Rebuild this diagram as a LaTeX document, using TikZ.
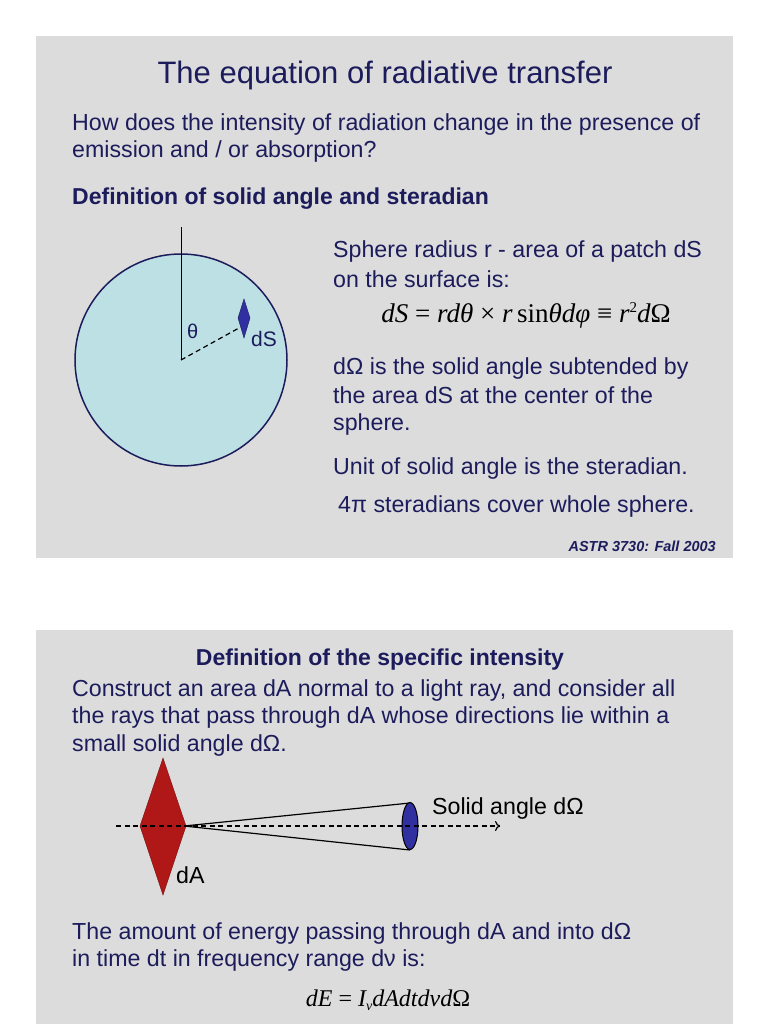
\documentclass[tikz,border=0pt]{standalone}
\usepackage{fontspec}
\setmainfont{Liberation Sans}
\newfontfamily\serifx{Liberation Serif}
\usetikzlibrary{arrows.meta}
\begin{document}
\begin{tikzpicture}[x=1pt,y=-1pt,
  txt/.style={anchor=west,inner sep=0pt,text=navy,font=\fontsize{23.2}{27}\selectfont},
  hd/.style={txt,font=\fontsize{23}{27}\selectfont\bfseries},
  eqn/.style={anchor=center,inner sep=0pt,text=black,font=\fontsize{24}{28}\selectfont\serifx},
  dsh/.style={dash pattern=on 5pt off 3.5pt,black,line width=1.2pt}]
\definecolor{navy}{HTML}{1C1C5C}
\definecolor{panel}{HTML}{DCDCDC}
\definecolor{sph}{HTML}{BCE0E4}
\definecolor{dsb}{HTML}{3030A0}
\definecolor{red}{HTML}{B01818}
\useasboundingbox (0,0) rectangle (768,1024);
\fill[white] (0,0) rectangle (768,1024);
\fill[panel] (36,36) rectangle (733,558);
\fill[panel] (36,630) rectangle (733,1024);
% panel 1 texts
\node[txt,anchor=center,font=\fontsize{31}{36}\selectfont] (title) at (385,75) {The equation of radiative transfer};
\node[txt] (q1) at (72,125) {How does the intensity of radiation change in the presence of};
\node[txt] (q2) at (72,152) {emission and / or absorption?};
\node[hd] (h1) at (72,199) {Definition of solid angle and steradian};
\node[txt] (r1) at (333,252) {Sphere radius r - area of a patch dS};
\node[txt] (r2) at (333,279) {on the surface is:};
\node[eqn,font=\fontsize{27}{30}\selectfont\serifx] (eq1) at (526,315) {\itshape dS {\upshape=} rdθ {\upshape×} r\,{\upshape sin}θdφ {\upshape≡} r\raisebox{0.8ex}{\fontsize{15}{15}\selectfont\upshape 2}d{\upshape Ω}};
\node[txt] (r3) at (333,368) {dΩ is the solid angle subtended by};
\node[txt] (r4) at (333,395) {the area dS at the center of the};
\node[txt] (r5) at (333,424) {sphere.};
\node[txt] (r6) at (333,468) {Unit of solid angle is the steradian.};
\node[txt] (r7) at (338,506) {4π steradians cover whole sphere.};
\node[txt,anchor=east,font=\fontsize{14.5}{17}\selectfont\bfseries\itshape] (astr) at (716,546) {ASTR 3730: Fall 2003};
% sphere
\node[circle,draw=navy,line width=1.5pt,fill=sph,minimum size=212pt,inner sep=0pt] (sphere) at (181,360) {};
\coordinate (ctr) at (181,360);
\coordinate (top) at (181,227);
\draw[black,line width=1pt] (top) -- (ctr);
\draw[dsh] (ctr) -- (239,328);
\fill[dsb,draw=navy] (244,299) -- (250,318) -- (244,338) -- (238,318) -- cycle;
\node[txt,font=\fontsize{20}{22}\selectfont] (th) at (187,331) {θ};
\node[txt,font=\fontsize{21}{24}\selectfont] (ds) at (251,339) {dS};
% panel 2
\node[hd,anchor=center] (h2) at (380,660) {Definition of the specific intensity};
\node[txt] (s1) at (72,690) {Construct an area dA normal to a light ray, and consider all};
\node[txt] (s2) at (72,717) {the rays that pass through dA whose directions lie within a};
\node[txt] (s3) at (72,745) {small solid angle dΩ.};
\fill[red,draw=red!70!black] (163,758) -- (186,826) -- (163,895) -- (140,826) -- cycle;
\coordinate (apex) at (184,826);
\draw[black,line width=1.2pt] (apex) -- (410,803);
\draw[black,line width=1.2pt] (apex) -- (410,850);
\fill[dsb,draw=black,line width=1pt] (410,826) ellipse (8 and 23.5);
\coordinate (l0) at (116,826);
\coordinate (l1) at (500,826);
\draw[dsh,-{To[length=5pt,width=10pt]}] (l0) -- (l1);
\node[txt,text=black] (sa) at (432,808) {Solid angle dΩ};
\node[txt,text=black] (da) at (176,875) {dA};
\node[txt] (t1) at (72,933) {The amount of energy passing through dA and into dΩ};
\node[txt] (t2) at (72,960) {in time dt in frequency range dν is:};
\node[eqn] (eq2) at (388,1000) {\itshape dE {\upshape=} I\raisebox{-0.4ex}{\fontsize{14}{14}\selectfont ν}dAdtdνd{\upshape Ω}};
\end{tikzpicture}
\end{document}
